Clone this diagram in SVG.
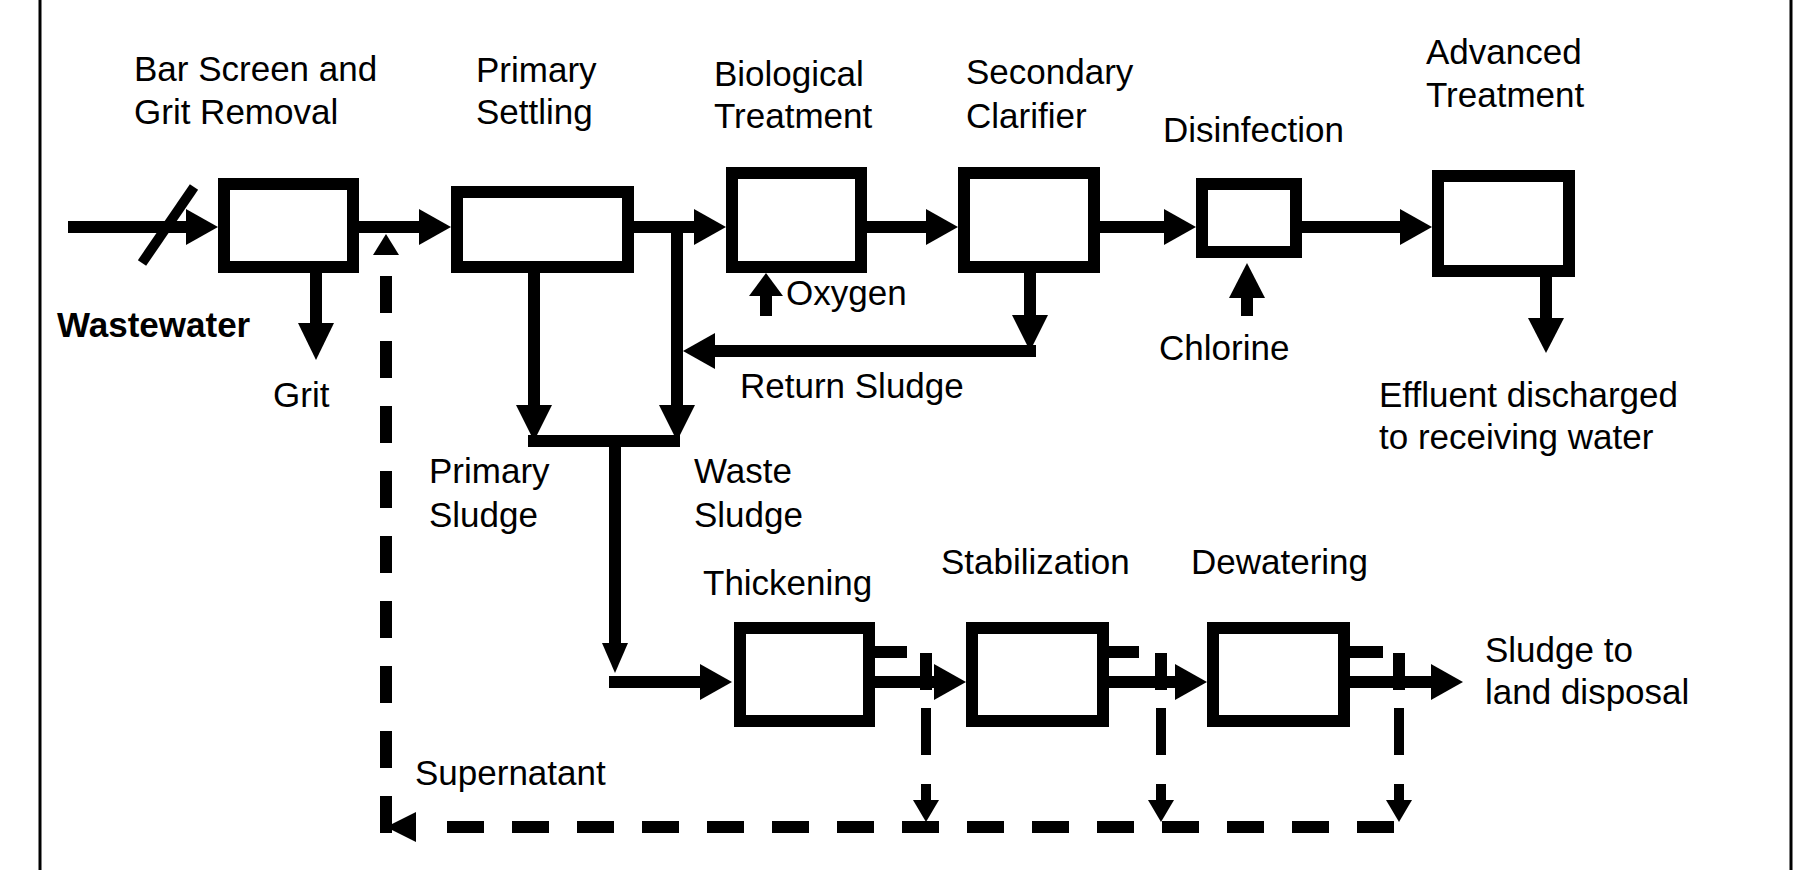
<svg xmlns="http://www.w3.org/2000/svg" width="1797" height="870" viewBox="0 0 1797 870">
<style>
.b{fill:none;stroke:#000;stroke-width:12}
.l{fill:none;stroke:#000;stroke-width:12}
.d{fill:none;stroke:#000;stroke-width:12;stroke-dasharray:37 28}
.dv{fill:none;stroke:#000;stroke-width:10;stroke-dasharray:47 29}
.h{fill:#000}
text{font-family:"Liberation Sans",Arial,sans-serif;font-size:35px;fill:#000}
</style>
<rect x="0" y="0" width="1797" height="870" fill="#fff"/>
<line x1="40" y1="0" x2="40" y2="870" stroke="#000" stroke-width="3"/>
<line x1="1791" y1="0" x2="1791" y2="870" stroke="#000" stroke-width="3"/>
<g id="bar-screen"><rect class="b" x="224" y="184" width="129" height="83"/><text x="134" y="81">Bar Screen and</text><text x="134" y="124">Grit Removal</text></g>
<g id="primary-settling"><rect class="b" x="457" y="192" width="171" height="75"/><text x="476" y="82">Primary</text><text x="476" y="124">Settling</text></g>
<g id="biological"><rect class="b" x="732" y="173" width="129" height="94"/><text x="714" y="86">Biological</text><text x="714" y="128">Treatment</text></g>
<g id="secondary-clarifier"><rect class="b" x="964" y="173" width="130" height="94"/><text x="966" y="84">Secondary</text><text x="966" y="128">Clarifier</text></g>
<g id="disinfection"><rect class="b" x="1202" y="184" width="94" height="68"/><text x="1163" y="142">Disinfection</text></g>
<g id="advanced"><rect class="b" x="1438" y="176" width="131" height="95"/><text x="1426" y="64">Advanced</text><text x="1426" y="107">Treatment</text></g>
<g id="thickening"><rect class="b" x="740" y="628" width="129" height="93"/><text x="703" y="595">Thickening</text></g>
<g id="stabilization"><rect class="b" x="972" y="628" width="131" height="93"/><text x="941" y="574">Stabilization</text></g>
<g id="dewatering"><rect class="b" x="1213" y="628" width="131" height="93"/><text x="1191" y="574">Dewatering</text></g>
<g id="labels">
<text x="57" y="337" font-weight="bold">Wastewater</text>
<text x="273" y="407">Grit</text>
<text x="786" y="305">Oxygen</text>
<text x="740" y="398">Return Sludge</text>
<text x="1159" y="360">Chlorine</text>
<text x="1379" y="407">Effluent discharged</text>
<text x="1379" y="449">to receiving water</text>
<text x="429" y="483">Primary</text><text x="429" y="527">Sludge</text>
<text x="694" y="483">Waste</text><text x="694" y="527">Sludge</text>
<text x="1485" y="662">Sludge to</text><text x="1485" y="704">land disposal</text>
<text x="415" y="785">Supernatant</text>
</g>
<g id="connectors">
<path class="l" d="M68 227H188M359 227H421M634 227H696M867 227H928M1100 227H1166M1302 227H1402"/>
<line x1="142" y1="263" x2="194" y2="187" stroke="#000" stroke-width="10"/>
<polygon class="h" points="186,209 218,227 186,245"/>
<polygon class="h" points="419,209 451,227 419,245"/>
<polygon class="h" points="694,209 726,227 694,245"/>
<polygon class="h" points="926,209 958,227 926,245"/>
<polygon class="h" points="1164,209 1196,227 1164,245"/>
<polygon class="h" points="1400,209 1432,227 1400,245"/>
<path class="l" d="M316 273V325"/><polygon class="h" points="298,323 334,323 316,360"/>
<path class="l" d="M534 273V407M677 227V407M528 441H680"/>
<polygon class="h" points="516,405 552,405 534,441"/>
<polygon class="h" points="659,405 695,405 677,441"/>
<path class="l" d="M1030 273V317M1036 351H713"/>
<polygon class="h" points="1012,315 1048,315 1030,351"/>
<polygon class="h" points="715,333 715,369 683,351"/>
<path class="l" d="M766 293V316" stroke-width="10"/><polygon class="h" points="749,296 783,296 766,273"/>
<path class="l" d="M1247 296V316" stroke-width="10"/><polygon class="h" points="1229,298 1265,298 1247,263"/>
<path class="l" d="M1546 277V320"/><polygon class="h" points="1528,318 1564,318 1546,353"/>
<path class="l" d="M615 441V645M609 682H702" stroke-width="11"/>
<polygon class="h" points="602,643 628,643 615,673"/>
<polygon class="h" points="700,664 700,700 732,682"/>
<path class="l" d="M875 652H907M1109 652H1139M1350 652H1383" stroke-width="8"/>
<path class="l" d="M875 682H936M1109 682H1177M1350 682H1433"/>
<polygon class="h" points="934,664 966,682 934,700"/>
<polygon class="h" points="1175,664 1207,682 1175,700"/>
<polygon class="h" points="1431,664 1463,682 1431,700"/>
<path class="l" d="M926 653V690M1161 653V690M1399 653V690" stroke-width="5"/>
<path class="dv" d="M926 708V801M1161 708V801M1399 708V801"/>
<polygon class="h" points="913,800 939,800 926,822"/>
<polygon class="h" points="1148,800 1174,800 1161,822"/>
<polygon class="h" points="1386,800 1412,800 1399,822"/>
<path class="d" d="M1394 827H419"/>
<polygon class="h" points="386,827 416,812 416,842"/>
<path class="d" d="M386 833V255"/>
<polygon class="h" points="373,255 399,255 386,234"/>
</g>
</svg>
